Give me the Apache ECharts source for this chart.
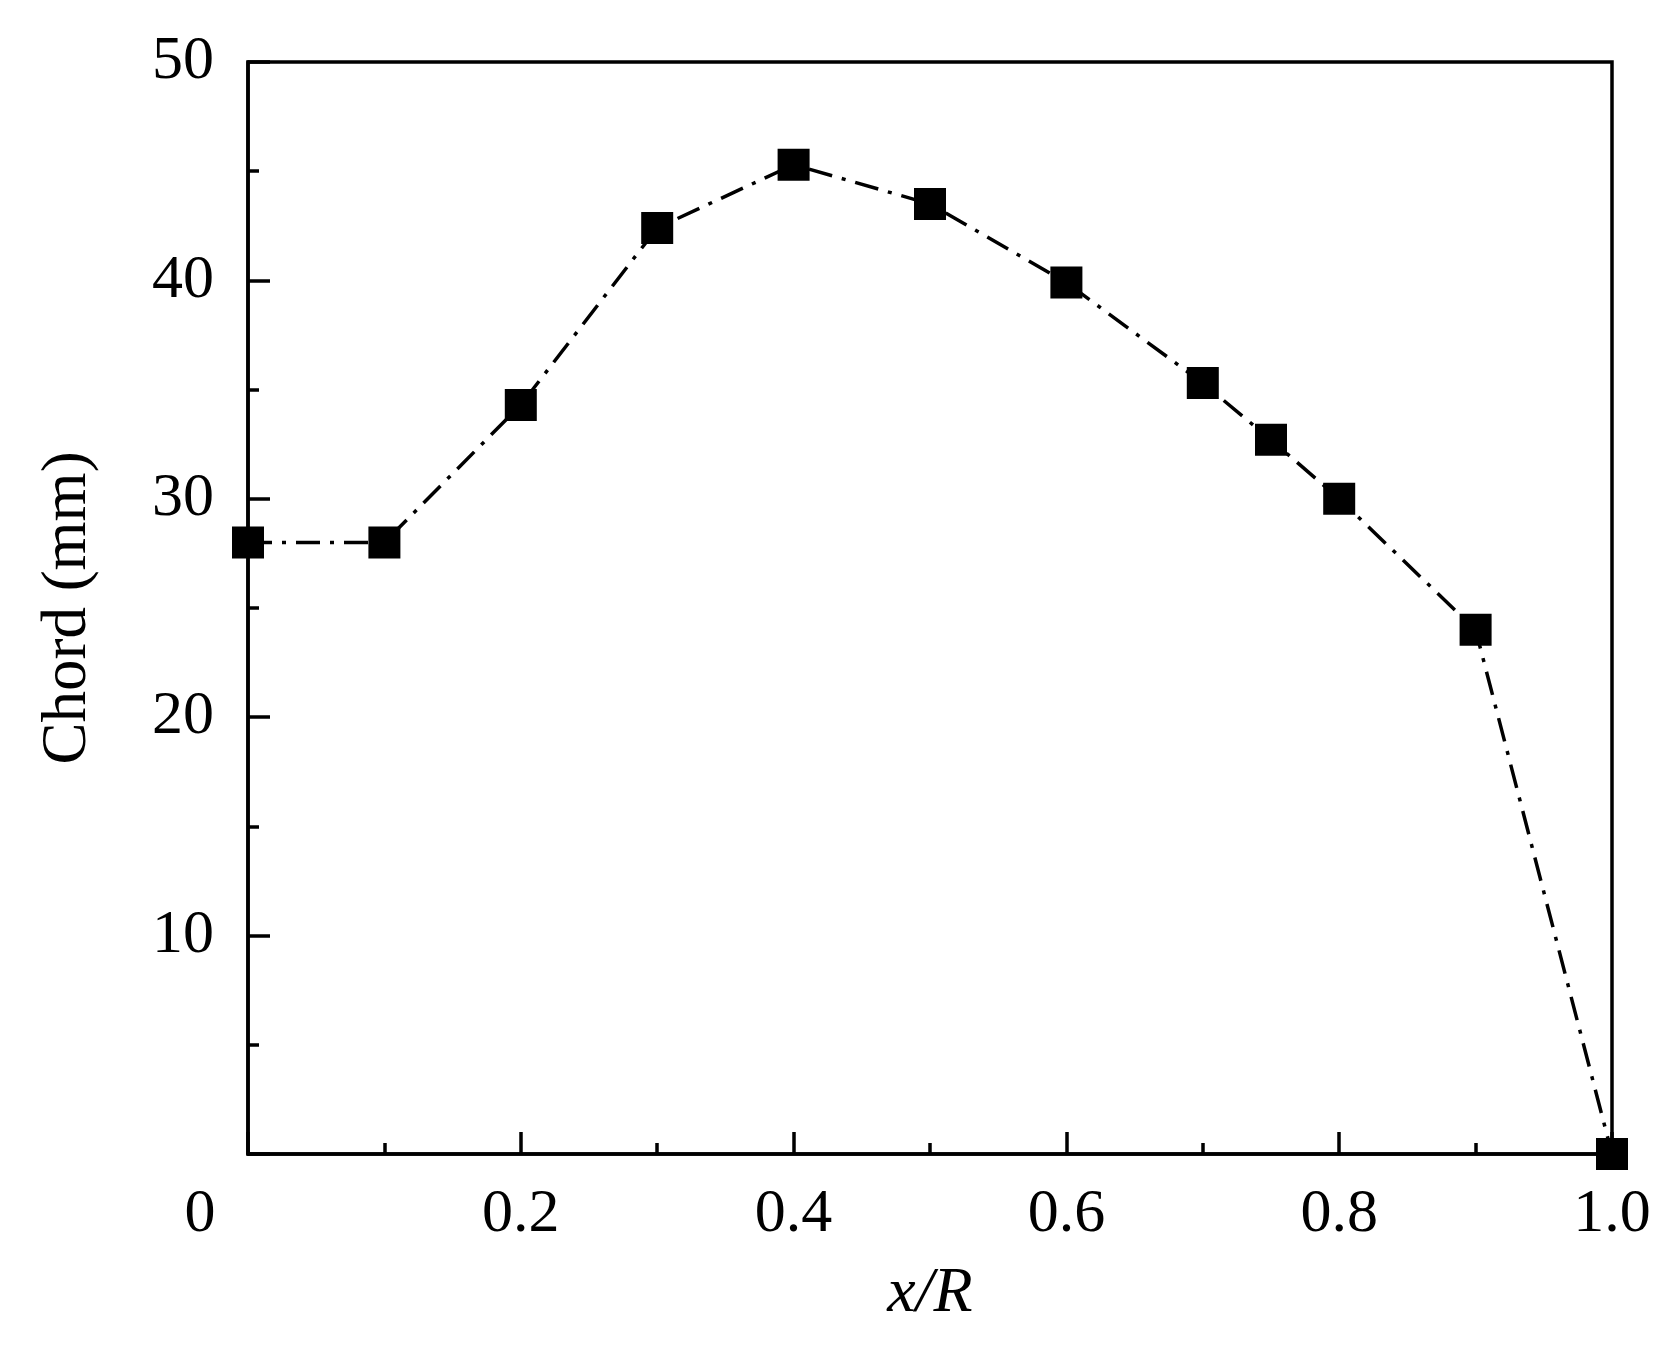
<!DOCTYPE html>
<html>
<head>
<meta charset="utf-8">
<script src="https://cdn.jsdelivr.net/npm/echarts@6/dist/echarts.min.js"></script>
<style>
html,body{margin:0;padding:0;background:#fff;}
#chart{width:1678px;height:1348px;}
</style>
</head>
<body>
<div id="chart"></div>
<script>
const xValues = [0, 0.1, 0.2, 0.3, 0.4, 0.5, 0.6, 0.7, 0.75, 0.8, 0.9, 1.0];
const chordValues = [28, 28, 34.3, 42.4, 45.3, 43.5, 39.9, 35.3, 32.7, 30, 24, 0];
const xAxisName = 'x/R';
const yAxisName = 'Chord (mm)';

const FONT = '"Liberation Serif", "Times New Roman", serif';
const chart = echarts.init(document.getElementById('chart'));
chart.setOption({
  backgroundColor: '#fff',
  animation: false,
  grid: { left: 248, right: 66, top: 62, bottom: 194, show: true, borderColor: '#000', borderWidth: 3.5, backgroundColor: 'transparent' },
  xAxis: {
    type: 'value', min: 0, max: 1, interval: 0.2,
    name: xAxisName, nameLocation: 'middle', nameGap: 108,
    nameTextStyle: { fontFamily: FONT, fontSize: 64, fontStyle: 'italic', color: '#000' },
    axisLine: { show: true, onZero: false, lineStyle: { color: '#000', width: 3.5 } },
    axisTick: { show: true, inside: true, length: 22, lineStyle: { color: '#000', width: 3.5 } },
    minorTick: { show: true, splitNumber: 2, length: 11, lineStyle: { color: '#000', width: 3.5 } },
    splitLine: { show: false },
    axisLabel: {
      fontFamily: FONT, fontSize: 62, color: '#000', margin: 30,
      formatter: function (v) { return v === 0 ? '{o|0}' : v.toFixed(1); },
      rich: { o: { fontFamily: FONT, fontSize: 62, color: '#000', padding: [0, 96, 0, 0] } }
    }
  },
  yAxis: {
    type: 'value', min: 0, max: 50, interval: 10,
    name: yAxisName, nameLocation: 'middle', nameGap: 148, nameRotate: 90,
    nameTextStyle: { fontFamily: FONT, fontSize: 63, color: '#000' },
    axisLine: { show: true, onZero: false, lineStyle: { color: '#000', width: 3.5 } },
    axisTick: { show: true, inside: true, length: 22, lineStyle: { color: '#000', width: 3.5 } },
    minorTick: { show: true, splitNumber: 2, length: 11, lineStyle: { color: '#000', width: 3.5 } },
    splitLine: { show: false },
    axisLabel: {
      fontFamily: FONT, fontSize: 62, color: '#000', margin: 34,
      formatter: function (v) { return v === 0 ? '' : String(v); }
    }
  },
  series: [{
    type: 'line',
    data: xValues.map((x, i) => [x, chordValues[i]]),
    symbol: 'rect', symbolSize: 32,
    itemStyle: { color: '#000' },
    lineStyle: { color: '#000', width: 3.5, type: [24, 10, 4, 10] },
    clip: false
  }]
});
</script>
</body>
</html>
